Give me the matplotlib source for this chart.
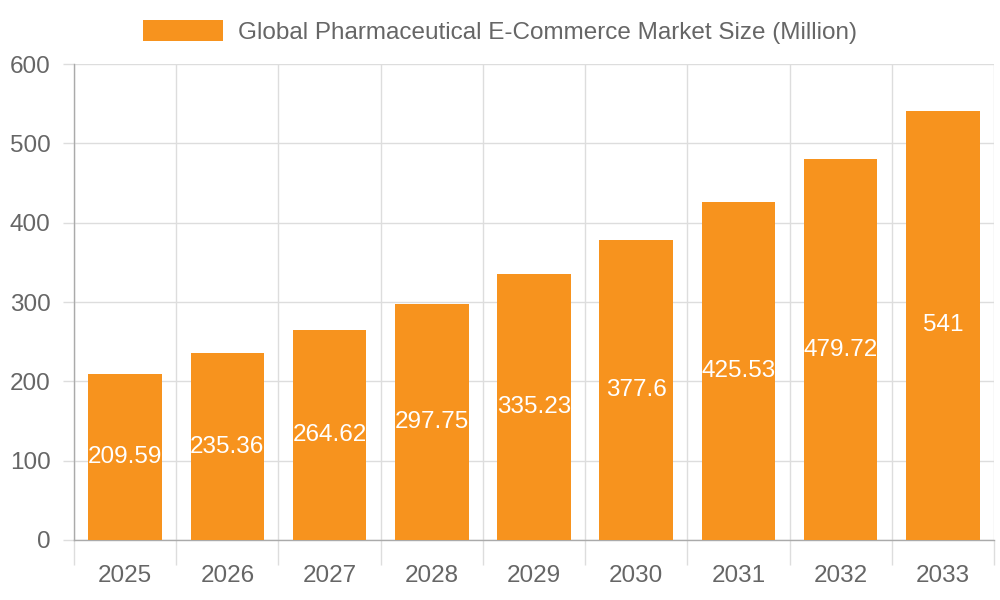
import matplotlib.pyplot as plt
import numpy as np

plt.rcParams['font.family'] = ['Liberation Sans', 'DejaVu Sans']

years = ['2025', '2026', '2027', '2028', '2029', '2030', '2031', '2032', '2033']
market_size = [209.59, 235.36, 264.62, 297.75, 335.23, 377.6, 425.53, 479.72, 541]
series_name = 'Global Pharmaceutical E-Commerce Market Size (Million)'

bar_color = '#F7931E'
text_grey = '#666666'
grid_grey = '#dddddd'
fs = 17.5

fig = plt.figure(figsize=(10, 6), dpi=100)
ax = fig.add_axes([0.074, 0.1, 0.92, 0.7933])

x = np.arange(len(years))
bars = ax.bar(x, market_size, width=0.72, color=bar_color, label=series_name, zorder=3)

for xi, v in zip(x, market_size):
    ax.text(xi, v / 2, f'{v:g}', ha='center', va='center', color='white', fontsize=fs, zorder=4)

ax.set_xlim(-0.5, len(years) - 0.5)
ax.set_ylim(0, 600)
ax.set_yticks(range(0, 601, 100))
ax.set_xticks(x)
ax.set_xticklabels(years)
ax.set_xticks(np.arange(-0.5, len(years), 1), minor=True)

ax.grid(axis='y', color=grid_grey, linewidth=1, zorder=0)
ax.grid(axis='x', which='minor', color=grid_grey, linewidth=1, zorder=0)
ax.grid(axis='x', which='major', visible=False)

ax.tick_params(axis='x', which='major', length=0, pad=18, labelsize=fs, labelcolor=text_grey)
ax.tick_params(axis='x', which='minor', length=18, color=grid_grey, width=1)
ax.tick_params(axis='y', length=8, color=grid_grey, width=1, pad=9, labelsize=fs, labelcolor=text_grey)

for side in ['top', 'right']:
    ax.spines[side].set_visible(False)
for side in ['left', 'bottom']:
    ax.spines[side].set_color('#aaaaaa')
    ax.spines[side].set_linewidth(1)

fig.legend(handles=[bars], labels=[series_name], loc='center', bbox_to_anchor=(0.5, 0.947),
           frameon=False, fontsize=fs, labelcolor=text_grey, handlelength=3.3, handleheight=1.0,
           handletextpad=0.6)

fig.savefig('out.png', dpi=100)
